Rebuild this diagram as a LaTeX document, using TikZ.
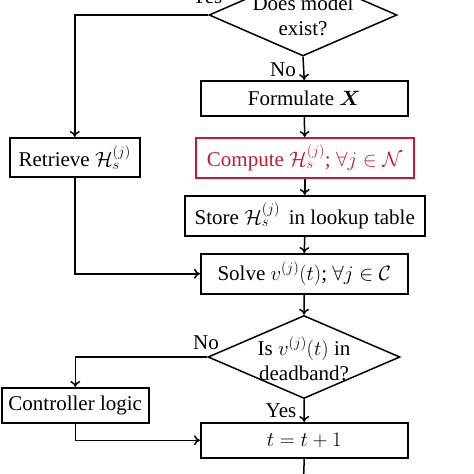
\documentclass[tikz,border=0pt]{standalone}
\usepackage{amsmath}
\usepackage{bm}
\usepackage{fontspec}
\setmainfont{Liberation Serif}
\usetikzlibrary{shapes.geometric,arrows.meta}
\definecolor{boxred}{RGB}{204,24,40}
\begin{document}
\begin{tikzpicture}[x=1pt,y=-1pt,
  font=\fontsize{21}{25}\selectfont,
  line width=1.5pt,
  arr/.style={-{To[length=6pt,width=10pt]}},
  procbox/.style={draw,rectangle,inner sep=0pt,anchor=north west},
  decide/.style={draw,diamond,inner sep=0pt},
  lbl/.style={inner sep=0pt}]
\useasboundingbox (0,0) rectangle (474,474);
% top decision
\node[decide,minimum width=188pt,minimum height=82pt] (d1) at (303,15) {};
\node[lbl,align=center] (d1t) at (303,16) {Does model\\exist?};
\node[lbl] (yes1) at (207,-3) {Yes};
\node[lbl] (no1) at (283,70) {No};
% boxes
\node[procbox,minimum width=207pt,minimum height=35pt] (form) at (200,80) {};
\node[lbl] at (form.center) {Formulate $\bm{X}$};
\node[procbox,minimum width=130pt,minimum height=39pt] (retr) at (9,137) {};
\node[lbl] at (retr.center) {Retrieve $\mathcal{H}_s^{(j)}$};
\node[procbox,draw=boxred,minimum width=218pt,minimum height=40pt] (comp) at (195,137) {};
\node[lbl,text=boxred] at (comp.center) {Compute $\mathcal{H}_s^{(j)}$; $\forall j\in\mathcal{N}$};
\node[procbox,minimum width=240pt,minimum height=40pt] (store) at (184,195) {};
\node[lbl] at (store.center) {Store $\mathcal{H}_s^{(j)}$\, in lookup table};
\node[procbox,minimum width=207pt,minimum height=40pt] (solve) at (200,253) {};
\node[lbl] at (solve.center) {Solve $v^{(j)}(t)$; $\forall j\in\mathcal{C}$};
% second decision
\node[decide,minimum width=192pt,minimum height=83pt] (d2) at (304,357) {};
\node[lbl,align=center] (d2t) at (304,359) {Is $v^{(j)}(t)$ in\\deadband?};
\node[lbl] (no2) at (206,343) {No};
\node[lbl] (yes2) at (281,411) {Yes};
\node[procbox,minimum width=147pt,minimum height=35pt] (ctrl) at (1,387) {};
\node[lbl] at (ctrl.center) {Controller logic};
\node[procbox,minimum width=207pt,minimum height=35pt] (tbox) at (200,422) {};
\node[lbl] at (tbox.center) {$t=t+1$};
\coordinate (bot) at (303.5,480);
% connectors
\draw[arr] (d1.south) -- (form.north);
\draw[arr] (d1.west) -| (retr.north);
\draw[arr] (form.south) -- (comp.north);
\draw[arr] (comp.south) -- (store.north);
\draw[arr] (store.south) -- (solve.north);
\draw[arr] (retr.south) |- (solve.west);
\draw[arr] (solve.south) -- (d2.north);
\draw[arr] (d2.west) -| (ctrl.north);
\draw[arr] (d2.south) -- (tbox.north);
\draw[arr] (ctrl.south) |- (tbox.west);
\draw[arr] (tbox.south) -- (bot);
\end{tikzpicture}
\end{document}
